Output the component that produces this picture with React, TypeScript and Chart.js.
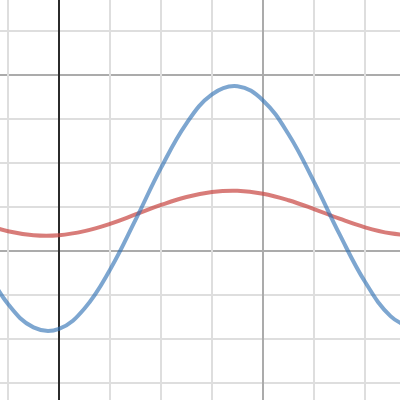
import React, { useEffect, useRef } from 'react';
import { Chart, registerables } from 'chart.js';

Chart.register(...registerables);

// sample positions along x (grid units: 0.5 per minor line)
const xValues = [-0.75, -0.5, -0.25, 0, 0.25, 0.5, 0.75, 1, 1.25, 1.5, 1.75, 2, 2.25, 2.5, 2.75, 3, 3.25, 3.5];

// big wave (blue)
const blueValues = [1.86, 1.397, 1.132, 1.115, 1.347, 1.787, 2.353, 2.944, 3.451, 3.78, 3.873, 3.711, 3.326, 2.786, 2.191, 1.65, 1.26, 1.094];

// flat wave (red)
const redValues = [2.307, 2.225, 2.18, 2.18, 2.226, 2.309, 2.415, 2.523, 2.614, 2.67, 2.684, 2.651, 2.577, 2.477, 2.367, 2.269, 2.201, 2.174];

const xTicks = [-0.5, 0, 0.5, 1, 1.5, 2, 2.5, 3];
const yTicks = [0.5, 1, 1.5, 2, 2.5, 3, 3.5, 4, 4.5];

const gridColor = (ctx: any) => {
  const v = ctx.tick ? ctx.tick.value : 1;
  if (v === 0) return '#2b2b2b';
  if (v % 2 === 0) return '#ababab';
  return '#dedede';
};

const App: React.FC = () => {
  const canvasRef = useRef<HTMLCanvasElement>(null);

  useEffect(() => {
    document.body.style.margin = '0';
    if (!canvasRef.current) return;
    const chart = new Chart(canvasRef.current, {
      type: 'line',
      data: {
        datasets: [
          {
            data: xValues.map((x, i) => ({ x, y: blueValues[i] })),
            borderColor: 'rgba(45, 112, 179, 0.62)',
            borderWidth: 4,
            pointRadius: 0,
            tension: 0.4,
            fill: false,
          },
          {
            data: xValues.map((x, i) => ({ x, y: redValues[i] })),
            borderColor: 'rgba(199, 68, 64, 0.7)',
            borderWidth: 4,
            pointRadius: 0,
            tension: 0.4,
            fill: false,
          },
        ],
      },
      options: {
        animation: false,
        responsive: false,
        layout: { padding: 0 },
        plugins: { legend: { display: false }, tooltip: { enabled: false } },
        scales: {
          x: {
            type: 'linear',
            min: -59 / 102,
            max: 341 / 102,
            afterBuildTicks: (scale: any) => {
              scale.ticks = xTicks.map((v) => ({ value: v }));
            },
            ticks: { display: false },
            border: { display: false },
            grid: { color: gridColor, lineWidth: 2, drawTicks: false, z: 0 },
          },
          y: {
            type: 'linear',
            min: 27 / 88,
            max: 427 / 88,
            afterBuildTicks: (scale: any) => {
              scale.ticks = yTicks.map((v) => ({ value: v }));
            },
            ticks: { display: false },
            border: { display: false },
            grid: { color: gridColor, lineWidth: 2, drawTicks: false },
          },
        },
      },
    });
    return () => chart.destroy();
  }, []);

  return (
    <div style={{ width: 400, height: 400, background: '#fff' }}>
      <canvas ref={canvasRef} width={400} height={400}></canvas>
    </div>
  );
};

export default App;
